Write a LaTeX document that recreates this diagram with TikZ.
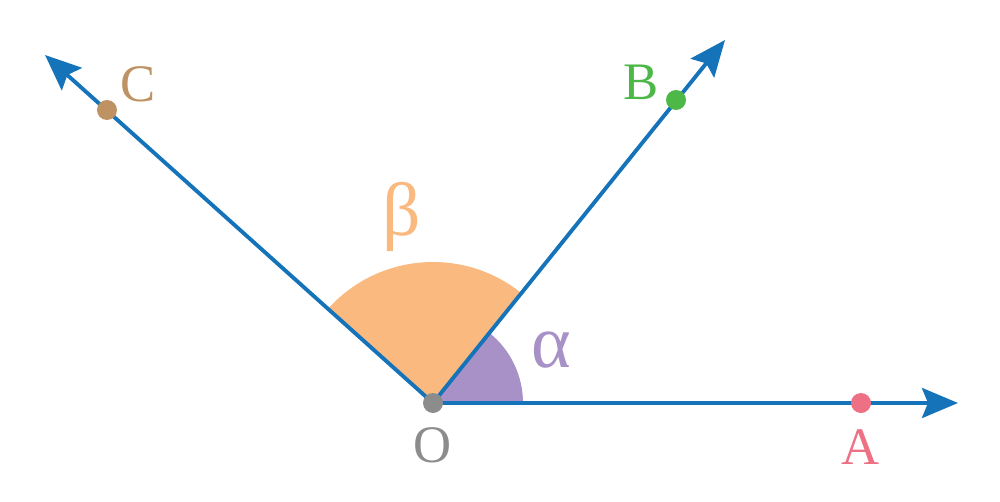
\documentclass[tikz,border=0pt]{standalone}
\usepackage{fontspec}
\setmainfont{Liberation Serif}
\usetikzlibrary{arrows.meta}
\definecolor{rayblue}{RGB}{20,115,185}
\definecolor{betaorange}{RGB}{249,185,127}
\definecolor{alphapurple}{RGB}{167,145,198}
\definecolor{ogray}{RGB}{140,140,140}
\definecolor{apink}{RGB}{238,112,132}
\definecolor{bgreen}{RGB}{77,184,72}
\definecolor{cbrown}{RGB}{190,146,98}
\tikzset{
  ray/.style={draw=rayblue, line width=2.2pt, -{Stealth[length=0.72cm, width=0.6cm, inset=0.12cm]}},
  lbl/.style={font=\fontsize{30}{34}\selectfont},
  glbl/.style={font=\fontsize{43}{46}\selectfont}
}
\begin{document}
\begin{tikzpicture}[x=0.02cm, y=0.02cm, line join=round, line cap=round]
			\useasboundingbox (-433,-98) rectangle (567,403);
			\coordinate (O) at (0,0);
			\coordinate (A) at (428,0);
			\coordinate (B) at (243,303);
			\coordinate (C) at (-326,293);
			\coordinate (Aend) at (525,0);
			\coordinate (Bend) at (292,363);
			\coordinate (Cend) at (-388,348);
			% Góc
			\fill[betaorange] (O) -- ++(51.2:141) arc[start angle=51.2, end angle=138.1, radius=141] -- cycle;
			\fill[alphapurple] (O) -- ++(0:90) arc[start angle=0, end angle=51.2, radius=90] -- cycle;
			% Tia
			\draw[ray] (O) -- (Aend);
			\draw[ray] (O) -- (Bend);
			\draw[ray] (O) -- (Cend);
			% Chấm điểm
			\fill[ogray] (O) circle (10);
			\fill[apink] (A) circle (10);
			\fill[bgreen] (B) circle (10);
			\fill[cbrown] (C) circle (10);
			% Nhãn
			\node[lbl, text=ogray] (lO) at (0,-42) {O};
			\node[lbl, text=apink] (lA) at (428,-44) {A};
			\node[lbl, text=bgreen] (lB) at (208,321) {B};
			\node[lbl, text=cbrown] (lC) at (-295,319) {C};
			\node[glbl, text=betaorange] (lbeta) at (-31,186) {β};
			\node[glbl, text=alphapurple] (lalpha) at (118,53) {α};
		\end{tikzpicture}
\end{document}
